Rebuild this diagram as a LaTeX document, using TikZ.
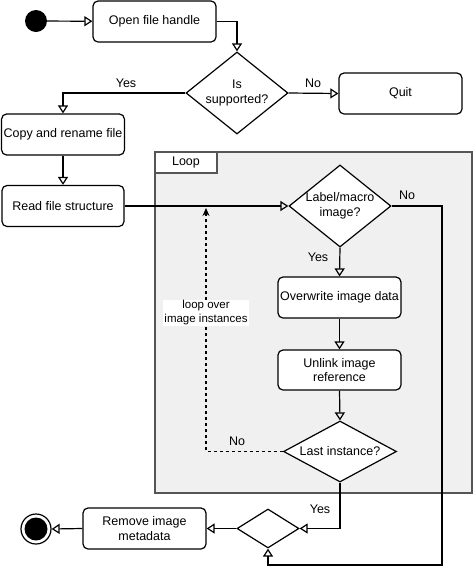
\documentclass[tikz,border=0pt]{standalone}
\usepackage{fontspec}
\setmainfont{Liberation Sans}
\usetikzlibrary{shapes.geometric,arrows.meta}
\definecolor{loopfill}{HTML}{F0F0F0}
\definecolor{loopdraw}{HTML}{555555}
\tikzset{
  box/.style={draw, rounded corners=5pt, line width=1.2pt, minimum width=123pt, minimum height=41pt, align=center, fill=white, inner sep=2pt},
  dia/.style={draw, diamond, line width=1.2pt, fill=white, inner sep=0pt},
  arr/.style={line width=1.2pt, -{Triangle[open,length=8pt,width=10pt]}},
  lbl/.style={inner sep=1pt},
}
\begin{document}
\begin{tikzpicture}[x=1pt,y=-1pt,font=\fontsize{12.5}{14.5}\selectfont]
\useasboundingbox (0,0) rectangle (474,566);
% loop frame
\draw[loopdraw, fill=loopfill, line width=1.2pt] (155,152) rectangle (472,493);
\node[draw=loopdraw, fill=white, line width=1.2pt, minimum width=62pt, minimum height=21pt, inner sep=0pt] (looptab) at (186,162.5) {Loop};
% nodes
\node[circle, fill=black, minimum size=22pt, inner sep=0pt] (start) at (36,21) {};
\node[box] (open) at (154.5,21.5) {Open file handle};
\node[dia, minimum width=102pt, minimum height=82pt] (d1) at (237,93) {};
\node[align=center] (d1t) at (d1) {Is\\supported?};
\node[box] (quit) at (400.5,93.5) {Quit};
\node[box, minimum width=122pt] (copy) at (63,134.5) {Copy and rename file};
\node[box, minimum width=122pt] (read) at (63,206) {Read file structure};
\node[dia, minimum width=102pt, minimum height=82pt] (d2) at (340,206) {};
\node[align=center] (d2t) at (d2) {Label/macro\\image?};
\node[box] (over) at (339.5,297.5) {Overwrite image data};
\node[box, minimum height=40pt] (unlink) at (339.5,370) {Unlink image\\reference};
\node[dia, minimum width=113pt, minimum height=61pt] (d3) at (340,451.5) {};
\node (d3t) at (d3) {Last instance?};
\node[dia, minimum width=62pt, minimum height=39pt] (d5) at (268,528.5) {};
\node[box] (remove) at (144.5,528.5) {Remove image\\metadata};
\node[circle, draw, line width=1.2pt, minimum size=30pt, inner sep=0pt, fill=white] (end) at (36,529) {};
\node[circle, fill=black, minimum size=23pt, inner sep=0pt] (endin) at (end) {};
% coordinates
\coordinate (c1) at (442,565);
\coordinate (looptip) at (206,208);
% connectors
\draw[arr] (start) -- (open);
\draw[arr] (open.east) -| (d1.north);
\draw[arr] (d1.west) -| (copy.north);
\draw[arr] (d1.east) -- (quit.west);
\draw[arr] (copy) -- (read);
\draw[arr] (read) -- (d2.west);
\draw[arr] (d2.east) -| (c1) -| (d5.south);
\draw[arr] (d2.south) -- (over.north);
\draw[arr] (over) -- (unlink);
\draw[arr] (unlink.south) -- (d3.north);
\draw[line width=1.2pt, dashed, dash pattern=on 3pt off 3pt, -{Stealth[length=8pt,width=7pt]}] (d3.west) -| (looptip);
\draw[arr] (d3.south) |- (d5.east);
\draw[arr] (d5.west) -- (remove.east);
\draw[arr] (remove.west) -- (end.east);
% labels
\node[lbl] (lyes1) at (126,83) {Yes};
\node[lbl] (lno1) at (313,83) {No};
\node[lbl] (lno2) at (407,195) {No};
\node[lbl] (lyes2) at (318,257) {Yes};
\node[lbl] (lno3) at (237,441) {No};
\node[lbl] (lyes3) at (320,509) {Yes};
\node[lbl, fill=white, align=center, font=\fontsize{11.5}{14}\selectfont] (lloop) at (206,313) {loop over\\image instances};
\end{tikzpicture}
\end{document}
